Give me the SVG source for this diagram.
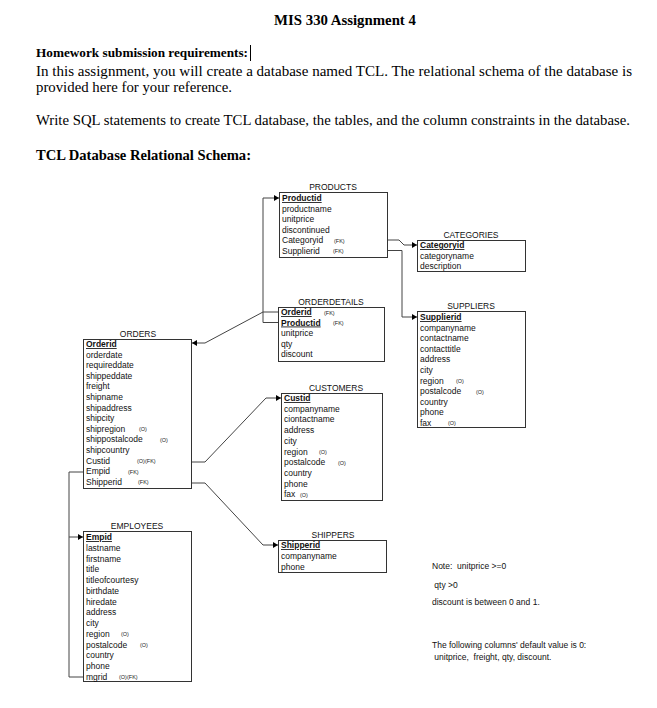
<svg xmlns="http://www.w3.org/2000/svg" width="657" height="708" viewBox="0 0 657 708">
<defs>
<marker id="arr" markerWidth="6" markerHeight="6" refX="5" refY="3" orient="auto" markerUnits="userSpaceOnUse">
<path d="M0,0 L5,3 L0,6 Z" fill="#000"/>
</marker>
<style>
.hd{font-family:"Liberation Serif","Times New Roman",serif;fill:#000}
.b{font-weight:bold}
.t{font-family:"Liberation Sans",Arial,sans-serif;font-size:8.5px;fill:#111}
.ttl{font-family:"Liberation Sans",Arial,sans-serif;font-size:8.5px;fill:#111;text-anchor:middle}
.pk{font-weight:bold;text-decoration:underline}
.a{font-family:"Liberation Sans",Arial,sans-serif;font-size:5.5px;fill:#222}
.n{font-family:"Liberation Sans",Arial,sans-serif;font-size:8.5px;fill:#111;white-space:pre}
.box{fill:#fff;stroke:#333;stroke-width:1}
.c{fill:none;stroke:#444;stroke-width:1}
</style>
</defs>
<rect width="657" height="708" fill="#fff"/>

<g id="header">
<text class="hd b" x="345" y="25" font-size="14.8" text-anchor="middle">MIS 330 Assignment 4</text>
<text class="hd b" x="36" y="57" font-size="13" textLength="212" lengthAdjust="spacingAndGlyphs">Homework submission requirements:</text>
<line x1="250.5" y1="45" x2="250.5" y2="61" stroke="#000" stroke-width="1"/>
<text class="hd" x="36" y="76" font-size="14.8" textLength="596" lengthAdjust="spacingAndGlyphs">In this assignment, you will create a database named TCL. The relational schema of the database is</text>
<text class="hd" x="36" y="92" font-size="14.8">provided here for your reference.</text>
<text class="hd" x="36" y="125" font-size="14.8" textLength="594" lengthAdjust="spacingAndGlyphs">Write SQL statements to create TCL database, the tables, and the column constraints in the database.</text>
<text class="hd b" x="36" y="160" font-size="14.6" textLength="215" lengthAdjust="spacingAndGlyphs">TCL Database Relational Schema:</text>
</g>

<g id="connectors">
<path class="c" d="M278,322.5 H263 V198 H279" marker-end="url(#arr)"/>
<path class="c" d="M278,312 H263 L205,343 H192" marker-end="url(#arr)"/>
<path class="c" d="M388,240 H399 L404,245 H417" marker-end="url(#arr)"/>
<path class="c" d="M388,250.5 H402 V317 H417" marker-end="url(#arr)"/>
<path class="c" d="M192,462 H205 L266,398 H281" marker-end="url(#arr)"/>
<path class="c" d="M192,483 H205 L263,545 H278" marker-end="url(#arr)"/>
<path class="c" d="M83,472 H69 V537 H83" marker-end="url(#arr)"/>
<path class="c" d="M83,677 H69 V537"/>
</g>

<g id="products">
<text class="ttl" x="333" y="190">PRODUCTS</text>
<rect class="box" x="279.5" y="192.5" width="108" height="65"/>
<text class="t pk" x="282" y="201">Productid</text>
<text class="t" x="282" y="211.5">productname</text>
<text class="t" x="282" y="222">unitprice</text>
<text class="t" x="282" y="232.5">discontinued</text>
<text class="t" x="282" y="243">Categoryid</text><text class="a" x="334" y="242.5">(FK)</text>
<text class="t" x="282" y="253.5">Supplierid</text><text class="a" x="333" y="253">(FK)</text>
</g>

<g id="categories">
<text class="ttl" x="471" y="238">CATEGORIES</text>
<rect class="box" x="417.5" y="240.5" width="108" height="31"/>
<text class="t pk" x="420" y="248">Categoryid</text>
<text class="t" x="420" y="258.5">categoryname</text>
<text class="t" x="420" y="269">description</text>
</g>

<g id="orderdetails">
<text class="ttl" x="331" y="305">ORDERDETAILS</text>
<rect class="box" x="278.5" y="307.5" width="106" height="54"/>
<text class="t pk" x="281" y="315">Orderid</text><text class="a" x="324" y="314.5">(FK)</text>
<text class="t pk" x="281" y="325.5">Productid</text><text class="a" x="333" y="325">(FK)</text>
<text class="t" x="281" y="336">unitprice</text>
<text class="t" x="281" y="346.5">qty</text>
<text class="t" x="281" y="357">discount</text>
</g>

<g id="suppliers">
<text class="ttl" x="471" y="309">SUPPLIERS</text>
<rect class="box" x="417.5" y="311.5" width="108" height="116"/>
<text class="t pk" x="420" y="320">Supplierid</text>
<text class="t" x="420" y="330.6">companyname</text>
<text class="t" x="420" y="341.2">contactname</text>
<text class="t" x="420" y="351.8">contacttitle</text>
<text class="t" x="420" y="362.4">address</text>
<text class="t" x="420" y="373">city</text>
<text class="t" x="420" y="383.6">region</text><text class="a" x="456" y="383">(O)</text>
<text class="t" x="420" y="394.2">postalcode</text><text class="a" x="476" y="393.6">(O)</text>
<text class="t" x="420" y="404.8">country</text>
<text class="t" x="420" y="415.4">phone</text>
<text class="t" x="420" y="426">fax</text><text class="a" x="448" y="425.4">(O)</text>
</g>

<g id="orders">
<text class="ttl" x="138" y="337">ORDERS</text>
<rect class="box" x="83.5" y="339.5" width="108" height="149"/>
<text class="t pk" x="86" y="347">Orderid</text>
<text class="t" x="86" y="357.6">orderdate</text>
<text class="t" x="86" y="368.2">requireddate</text>
<text class="t" x="86" y="378.8">shippeddate</text>
<text class="t" x="86" y="389.4">freight</text>
<text class="t" x="86" y="400">shipname</text>
<text class="t" x="86" y="410.6">shipaddress</text>
<text class="t" x="86" y="421.2">shipcity</text>
<text class="t" x="86" y="431.8">shipregion</text><text class="a" x="139" y="431.2">(O)</text>
<text class="t" x="86" y="442.4">shippostalcode</text><text class="a" x="160" y="441.8">(O)</text>
<text class="t" x="86" y="453">shipcountry</text>
<text class="t" x="86" y="463.6">Custid</text><text class="a" x="137" y="463">(O)(FK)</text>
<text class="t" x="86" y="474.2">Empid</text><text class="a" x="128" y="473.6">(FK)</text>
<text class="t" x="86" y="484.8">Shipperid</text><text class="a" x="138" y="484.2">(FK)</text>
</g>

<g id="customers">
<text class="ttl" x="336" y="391">CUSTOMERS</text>
<rect class="box" x="281.5" y="393.5" width="101" height="107"/>
<text class="t pk" x="284" y="401">Custid</text>
<text class="t" x="284" y="411.7">companyname</text>
<text class="t" x="284" y="422.4">ciontactname</text>
<text class="t" x="284" y="433.1">address</text>
<text class="t" x="284" y="443.8">city</text>
<text class="t" x="284" y="454.5">region</text><text class="a" x="319" y="453.9">(O)</text>
<text class="t" x="284" y="465.2">postalcode</text><text class="a" x="338" y="464.6">(O)</text>
<text class="t" x="284" y="475.9">country</text>
<text class="t" x="284" y="486.6">phone</text>
<text class="t" x="284" y="497.3">fax</text><text class="a" x="300" y="496.7">(O)</text>
</g>

<g id="shippers">
<text class="ttl" x="333" y="538">SHIPPERS</text>
<rect class="box" x="278.5" y="540.5" width="108" height="32"/>
<text class="t pk" x="281" y="548">Shipperid</text>
<text class="t" x="281" y="559">companyname</text>
<text class="t" x="281" y="570">phone</text>
</g>

<g id="employees">
<text class="ttl" x="137" y="529">EMPLOYEES</text>
<rect class="box" x="83.5" y="531.5" width="108" height="150"/>
<text class="t pk" x="86" y="540">Empid</text>
<text class="t" x="86" y="550.75">lastname</text>
<text class="t" x="86" y="561.5">firstname</text>
<text class="t" x="86" y="572.25">title</text>
<text class="t" x="86" y="583">titleofcourtesy</text>
<text class="t" x="86" y="593.75">birthdate</text>
<text class="t" x="86" y="604.5">hiredate</text>
<text class="t" x="86" y="615.25">address</text>
<text class="t" x="86" y="626">city</text>
<text class="t" x="86" y="636.75">region</text><text class="a" x="121" y="636.2">(O)</text>
<text class="t" x="86" y="647.5">postalcode</text><text class="a" x="140" y="646.9">(O)</text>
<text class="t" x="86" y="658.25">country</text>
<text class="t" x="86" y="669">phone</text>
<text class="t" x="86" y="679.75">mgrid</text><text class="a" x="119" y="679.2">(O)(FK)</text>
</g>

<g id="notes">
<text class="n" x="432" y="569">Note:  unitprice &gt;=0</text>
<text class="n" x="432" y="588"> qty &gt;0</text>
<text class="n" x="432" y="605">discount is between 0 and 1.</text>
<text class="n" x="432" y="648">The following columns' default value is 0:</text>
<text class="n" x="432" y="660"> unitprice,  freight, qty, discount.</text>
</g>
</svg>
